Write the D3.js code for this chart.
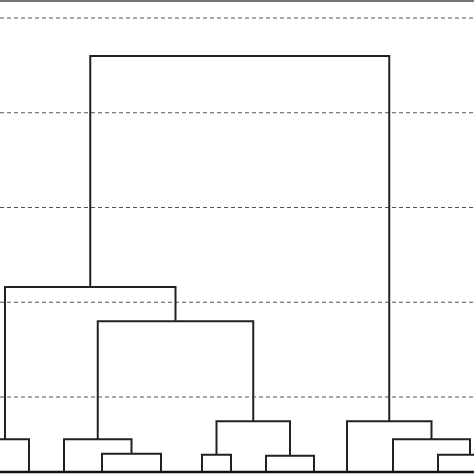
<!DOCTYPE html>
<html>
<head>
<meta charset="utf-8">
<script src="https://cdn.jsdelivr.net/npm/d3@7"></script>
<style>
  body { margin: 0; background: #fff; }
</style>
</head>
<body>
<div id="vis"></div>
<script>
'use strict'

// leaf positions (in leaf units along x) and merge heights
const leafPositions = [-19, 29, 64, 102, 161, 202, 231, 266, 314, 347, 393, 438, 502]
const gridValues = [1, 2, 3, 4, 5]
// merges: [left child, right child, height]; leaves are 'L0'.., nodes 'N0'..
const merges = [
  ['L0', 'L1', 0.555],
  ['L3', 'L4', 0.40],
  ['L2', 'N1', 0.555],
  ['L5', 'L6', 0.39],
  ['L7', 'L8', 0.38],
  ['N3', 'N4', 0.745],
  ['N2', 'N5', 1.80],
  ['N0', 'N6', 2.16],
  ['L11', 'L12', 0.39],
  ['L10', 'N8', 0.555],
  ['L9', 'N9', 0.745],
  ['N7', 'N10', 4.60]
]

const width = 474
const height = 474

const x = d3.scaleLinear().domain([0, 474]).range([0, 474])
const y = d3.scaleLinear().domain([0.205, 5]).range([472, 397 - 4 * 94.75 + 0])
y.domain([1, 5]).range([397, 18])

const svg = d3.select('#vis').append('svg')
  .attr('width', width)
  .attr('height', height)

svg.append('g')
  .selectAll('line')
  .data(gridValues)
  .join('line')
    .attr('x1', 0).attr('x2', width)
    .attr('y1', d => y(d)).attr('y2', d => y(d))
    .attr('stroke', '#555')
    .attr('stroke-width', 1)
    .attr('stroke-dasharray', '4,3')

// build node positions
const nodes = {}
leafPositions.forEach((p, i) => { nodes['L' + i] = { x: p, h: y.invert(472) } })

const links = svg.append('g')
  .attr('fill', 'none')
  .attr('stroke', '#222')
  .attr('stroke-width', 2)

merges.forEach((m, i) => {
  const a = nodes[m[0]], b = nodes[m[1]]
  nodes['N' + i] = { x: (a.x + b.x) / 2, h: m[2] }
  links.append('path')
    .attr('d', 'M' + x(a.x) + ',' + y(a.h) +
               'V' + y(m[2]) + 'H' + x(b.x) + 'V' + y(b.h))
})

// baseline and top frame
svg.append('line')
  .attr('x1', 0).attr('x2', width)
  .attr('y1', 472).attr('y2', 472)
  .attr('stroke', '#111').attr('stroke-width', 2.5)

svg.append('line')
  .attr('x1', 0).attr('x2', width)
  .attr('y1', 1).attr('y2', 1)
  .attr('stroke', '#777').attr('stroke-width', 2)
</script>
</body>
</html>
